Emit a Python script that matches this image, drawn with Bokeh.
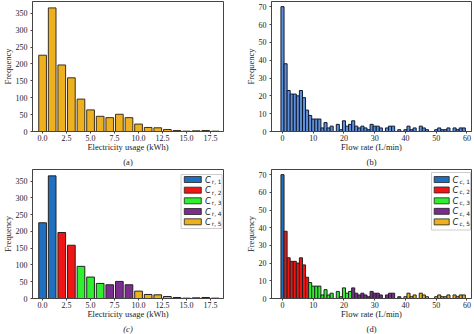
from bokeh.plotting import figure
from bokeh.layouts import column, row
from bokeh.models import FixedTicker, Title, Range1d, PrintfTickFormatter
from bokeh.embed import file_html
from bokeh.resources import INLINE
from bokeh.core.properties import value

# ---------------- data ----------------
elec_x = [0, 1, 2, 3, 4, 5, 6, 7, 8, 9, 10, 11, 12, 13, 14, 15, 16, 17, 18]
elec_counts = [226, 366, 197, 159, 96, 64, 45, 41, 51, 41, 22, 12, 11, 6, 3, 1, 2, 3, 1]
elec_group = [1, 1, 2, 2, 3, 3, 3, 4, 4, 4, 5, 5, 5, 5, 5, 5, 5, 5, 5]

flow_x = [0, 1, 2, 3, 4, 5, 6, 7, 8, 9,
          10, 11, 12, 13, 14, 15, 16, 17, 18, 19,
          20, 21, 22, 23, 24, 25, 26, 27, 28, 29,
          30, 31, 32, 33, 34, 35, 36, 37, 38, 39,
          40, 41, 42, 43, 44, 45, 46, 47, 48, 49,
          50, 51, 52, 53, 54, 55, 56, 57, 58, 59]
flow_counts = [70, 38, 23, 21, 21, 20, 23, 19, 12, 9,
               7, 7, 7, 2, 5, 2, 3, 0, 4, 1,
               6, 3, 4, 6, 3, 2, 3, 2, 1, 4,
               3, 3, 2, 0, 2, 3, 3, 0, 1, 0,
               1, 3, 1, 2, 0, 3, 2, 1, 0, 0,
               1, 2, 1, 1, 2, 0, 2, 1, 2, 2]
flow_group = [1, 2, 2, 2, 2, 2, 2, 2, 2, 3,
              3, 3, 3, 3, 3, 3, 3, 3, 3, 3,
              3, 3, 3, 4, 4, 4, 4, 4, 4, 4,
              4, 4, 4, 4, 4, 4, 4, 4, 4, 4,
              5, 5, 5, 5, 5, 5, 5, 5, 5, 5,
              5, 5, 5, 5, 5, 5, 5, 5, 5, 5]

cluster_colors = ["#1f70c1", "#f01515", "#2ef02e", "#7b2d8e", "#edb120"]
elec_labels = ["r, 1", "r, 2", "r, 3", "r, 4", "r, 5"]
flow_labels = ["c, 1", "c, 2", "c, 3", "c, 4", "c, 5"]
elec_ticks = [0, 2.5, 5, 7.5, 10, 12.5, 15, 17.5]
elec_yticks = [0, 50, 100, 150, 200, 250, 300, 350]
flow_ticks = [0, 10, 20, 30, 40, 50, 60]
flow_yticks = [0, 10, 20, 30, 40, 50, 60, 70]

SERIF = "Liberation Serif"
EDGE = "#3a3020"


def make_fig(xr, yr, bl, br, bt, bb, xlabel, tag, tag_italic=False):
    p = figure(width=237, height=167, x_range=Range1d(*xr), y_range=Range1d(*yr),
               output_backend="svg", toolbar_location=None,
               min_border_left=bl, min_border_right=br,
               min_border_top=bt, min_border_bottom=bb)
    p.grid.visible = False
    p.outline_line_color = "#444444"
    p.outline_line_width = 1
    p.background_fill_color = "white"
    p.border_fill_color = "white"
    for ax in p.axis:
        ax.major_label_text_font = SERIF
        ax.major_label_text_font_size = "8px"
        ax.major_label_text_color = "#222222"
        ax.axis_label_text_font = SERIF
        ax.axis_label_text_font_size = "8.5px"
        ax.axis_label_text_font_style = "normal"
        ax.axis_label_text_color = "#222222"
        ax.major_tick_out = 2
        ax.major_tick_in = 0
        ax.minor_tick_out = 0
        ax.minor_tick_in = 0
        ax.axis_line_color = "#444444"
        ax.major_tick_line_color = "#444444"
    p.xaxis.major_label_standoff = 1
    p.yaxis.major_label_standoff = 3
    p.xaxis.axis_label_standoff = -2
    p.xaxis.axis_label = xlabel
    p.add_layout(Title(text="Frequency", align="center", text_font=SERIF,
                       text_font_size="8.5px", text_font_style="normal",
                       text_color="#222222", standoff=0, offset=0), "left")
    t = Title(text=tag, align="center", text_font=SERIF, text_font_size="8.5px",
              text_font_style="italic" if tag_italic else "normal",
              text_color="#222222", standoff=0, offset=0)
    p.add_layout(t, "below")
    return p


def add_legend(p, fw, fh, box, patch, text_x, rows, colors, subs):
    xr, yr = p.x_range, p.y_range

    def X(fx):
        return xr.start + fx / fw * (xr.end - xr.start)

    def Y(fy):
        return yr.end - fy / fh * (yr.end - yr.start)

    p.rect(x=[X((box[0] + box[1]) / 2)], y=[Y((box[2] + box[3]) / 2)],
           width=box[1] - box[0], height=box[3] - box[2],
           width_units="screen", height_units="screen",
           fill_color="white", fill_alpha=0.85, line_color="#cccccc", line_width=1)
    n = len(rows)
    p.rect(x=[X((patch[0] + patch[1]) / 2)] * n, y=[Y(r) for r in rows],
           width=patch[1] - patch[0], height=6,
           width_units="screen", height_units="screen",
           fill_color=colors, line_color="#222222", line_width=0.8)
    p.text(x=[X(text_x)] * n, y=[Y(r) for r in rows], text=["C"] * n,
           text_font=value("DejaVu Sans"), text_font_style=value("italic"),
           text_font_size=value("8.5px"), text_baseline="middle", text_align="left",
           text_color="#222222")
    p.text(x=[X(text_x + 7)] * n, y=[Y(r + 2.3) for r in rows], text=subs,
           text_font=value("DejaVu Sans"), text_font_style=value("normal"),
           text_font_size=value("5.8px"), text_baseline="middle", text_align="left",
           text_color="#222222")


def style_elec(p):
    p.xaxis.ticker = FixedTicker(ticks=elec_ticks)
    p.xaxis.formatter = PrintfTickFormatter(format="%.1f")
    p.yaxis.ticker = FixedTicker(ticks=elec_yticks)


def style_flow(p):
    p.xaxis.ticker = FixedTicker(ticks=flow_ticks)
    p.yaxis.ticker = FixedTicker(ticks=flow_yticks)


# (a)
pa = make_fig((-1.05, 18.85), (0, 385), 27, 14, 1, 36, "Electricity usage (kWh)", "(a)")
style_elec(pa)
pa.vbar(x=elec_x, top=elec_counts, width=0.8, bottom=0,
        fill_color="#edb120", line_color=EDGE, line_width=1)

# (b)
pb = make_fig((-3.58, 61.5), (0, 72.9), 34, 3, 1, 35, "Flow rate (L/min)", "(b)")
style_flow(pb)
pb.vbar(x=flow_x, top=flow_counts, width=1.0, bottom=0,
        fill_color="#5f8fd6", line_color="#101a30", line_width=1)

# (c)
pc = make_fig((-1.05, 18.85), (0, 385), 27, 14, 2, 36, "Electricity usage (kWh)", "(c)",
              tag_italic=True)
style_elec(pc)
pc.vbar(x=elec_x, top=elec_counts, width=0.8, bottom=0,
        fill_color=[cluster_colors[g - 1] for g in elec_group],
        line_color="#222222", line_width=1)
add_legend(pc, 196, 129, (153, 194, 5, 59), (156, 173), 177,
           [10, 20.7, 31.3, 42, 52.3], cluster_colors, elec_labels)

# (d)
pd_ = make_fig((-3.58, 61.5), (0, 72.9), 34, 3, 1, 35, "Flow rate (L/min)", "(d)")
style_flow(pd_)
pd_.vbar(x=flow_x, top=flow_counts, width=1.0, bottom=0,
         fill_color=[cluster_colors[g - 1] for g in flow_group],
         line_color="#222222", line_width=1)
add_legend(pd_, 200, 131, (160, 199, 3.5, 61), (162.7, 177.7), 181,
           [10.2, 20.8, 31.8, 42.5, 53.2], cluster_colors, flow_labels)

layout = column(row(pa, pb), row(pc, pd_))
open("out.html", "w").write(file_html(layout, INLINE))
